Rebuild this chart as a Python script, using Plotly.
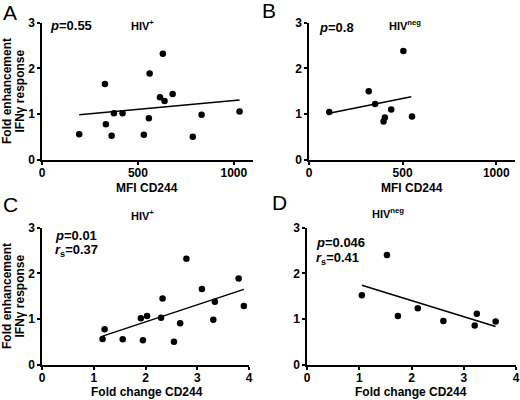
import plotly.graph_objects as go

# datos
# A: HIV+  MFI CD244 vs fold enhancement
a_x = [194, 328, 333, 363, 375, 420, 531, 557, 561, 615, 630, 639, 681, 786, 832, 1030]
a_y = [0.56, 1.66, 0.78, 0.53, 1.02, 1.02, 0.55, 0.91, 1.89, 1.37, 2.32, 1.29, 1.44, 0.51, 0.99, 1.06]
a_fit_x = [194, 1030]
a_fit_y = [0.99, 1.31]

# B: HIVneg  MFI CD244
b_x = [108, 319, 353, 398, 405, 439, 504, 550]
b_y = [1.05, 1.50, 1.22, 0.84, 0.93, 1.10, 2.38, 0.95]
b_fit_x = [108, 546]
b_fit_y = [1.02, 1.38]

# C: HIV+  fold change CD244
c_x = [1.17, 1.21, 1.56, 1.91, 1.95, 2.03, 2.30, 2.33, 2.55, 2.67, 2.79, 3.09, 3.31, 3.34, 3.80, 3.90]
c_y = [0.57, 0.78, 0.56, 1.02, 0.54, 1.07, 1.03, 1.45, 0.51, 0.91, 2.32, 1.66, 0.99, 1.38, 1.89, 1.29]
c_fit_x = [1.17, 3.90]
c_fit_y = [0.63, 1.65]

# D: HIVneg  fold change CD244
d_x = [1.05, 1.53, 1.74, 2.12, 2.61, 3.21, 3.25, 3.61]
d_y = [1.52, 2.40, 1.07, 1.24, 0.96, 0.86, 1.12, 0.95]
d_fit_x = [1.05, 3.61]
d_fit_y = [1.74, 0.84]

W, H = 520, 400
FONT = "Liberation Sans"

def px(x):
    return x / W

def py(y):
    return 1 - y / H

# posicion de cada panel en pixeles (izq, der, abajo, arriba)
paneles = [
    dict(x=a_x, y=a_y, fx=a_fit_x, fy=a_fit_y, dom=(42, 253, 160, 22.5), xr=[0, 1100], ticks=[0, 500, 1000]),
    dict(x=b_x, y=b_y, fx=b_fit_x, fy=b_fit_y, dom=(309, 515, 160, 22.5), xr=[0, 1100], ticks=[0, 500, 1000]),
    dict(x=c_x, y=c_y, fx=c_fit_x, fy=c_fit_y, dom=(42, 249, 365, 227.5), xr=[0, 4], ticks=[0, 1, 2, 3, 4]),
    dict(x=d_x, y=d_y, fx=d_fit_x, fy=d_fit_y, dom=(307, 516, 365, 227.5), xr=[0, 4], ticks=[0, 1, 2, 3, 4]),
]

fig = go.Figure()
layout_axes = {}
for i, p in enumerate(paneles):
    n = "" if i == 0 else str(i + 1)
    fig.add_trace(go.Scatter(x=p["fx"], y=p["fy"], mode="lines",
                             line=dict(color="black", width=1.5),
                             xaxis="x" + n, yaxis="y" + n, showlegend=False))
    fig.add_trace(go.Scatter(x=p["x"], y=p["y"], mode="markers",
                             marker=dict(color="black", size=6.5),
                             xaxis="x" + n, yaxis="y" + n, showlegend=False))
    l, r, b, t = p["dom"]
    eje = dict(showline=True, linecolor="black", linewidth=1.5, ticks="outside",
               ticklen=3, tickwidth=1.5, tickcolor="black", showgrid=False, zeroline=False,
               automargin=False,
               tickfont=dict(family=FONT, size=12, color="black", weight="bold"))
    layout_axes["xaxis" + n] = dict(eje, domain=[px(l), px(r)], range=p["xr"], tickvals=p["ticks"],
                                    anchor="y" + n, fixedrange=True, ticklabelstandoff=-2)
    layout_axes["yaxis" + n] = dict(eje, domain=[py(b), py(t)], range=[0, 3], tickvals=[0, 1, 2, 3],
                                    anchor="x" + n, fixedrange=True)

fig.update_layout(**layout_axes)

def texto(t, x, y, size=12, bold=True, xanchor="center", angle=0):
    fig.add_annotation(text=t, x=px(x), y=py(y), xref="paper", yref="paper",
                       showarrow=False, xanchor=xanchor, yanchor="middle", textangle=angle,
                       font=dict(family=FONT, size=size, color="black",
                                 weight="bold" if bold else "normal"))

# letras de panel
texto("A", 1, 12, size=21, bold=False, xanchor="left")
texto("B", 260, 11, size=21, bold=False, xanchor="left")
texto("C", 1, 204, size=21, bold=False, xanchor="left")
texto("D", 270, 203, size=21, bold=False, xanchor="left")

# grupos
texto("HIV<sup>+</sup>", 142, 25, size=11)
texto("HIV<sup>neg</sup>", 405, 25, size=11)
texto("HIV<sup>+</sup>", 142, 215, size=11)
texto("HIV<sup>neg</sup>", 388, 213, size=11)

# estadisticos
texto("<i>p</i>=0.55", 48, 26, size=13, xanchor="left")
texto("<i>p</i>=0.8", 317, 27, size=13, xanchor="left")
texto("<i>p</i>=0.01", 53, 235, size=13, xanchor="left")
texto("<i>r</i><sub>s</sub>=0.37", 53, 251, size=13, xanchor="left")
texto("<i>p</i>=0.046", 314, 242, size=13, xanchor="left")
texto("<i>r</i><sub>s</sub>=0.41", 314, 258, size=13, xanchor="left")

# titulos de ejes
texto("MFI CD244", 147, 188.5, size=12)
texto("MFI CD244", 412, 188.5, size=12)
texto("Fold change CD244", 147, 392, size=12)
texto("Fold change CD244", 411, 392, size=12)
# titulo y en dos lineas separadas (interlineado mas cerrado)
for yc in (91, 296):
    texto("Fold enhancement", 7, yc, size=12, angle=-90)
    texto("IFNγ response", 19.5, yc, size=12, angle=-90)

fig.update_layout(
    width=W, height=H,
    margin=dict(l=0, r=0, t=0, b=0),
    plot_bgcolor="white",
    paper_bgcolor="white",
    font=dict(family=FONT, color="black"),
)

# quitar el margen del body para que la figura llene la ventana
fig.write_html("out.html", config={"displayModeBar": False},
               post_script="document.body.style.margin='0';document.body.style.overflow='hidden';")
